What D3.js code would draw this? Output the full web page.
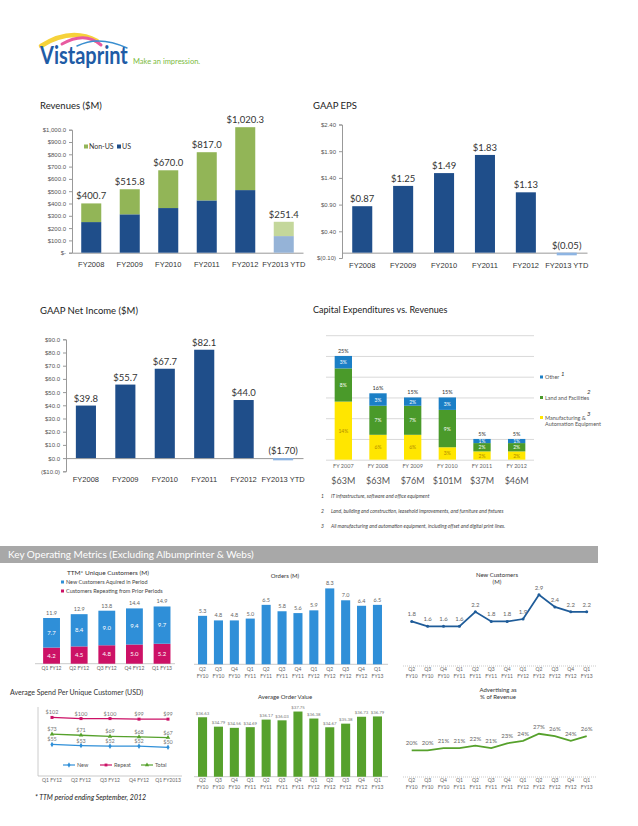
<!DOCTYPE html>
<html>
<head>
<meta charset="utf-8">
<script src="https://cdn.jsdelivr.net/npm/d3@7"></script>
<style>
body { margin: 0; background: #fff; }
svg { font-family: Lato, "Open Sans", sans-serif; }
</style>
</head>
<body>
<svg width="638" height="826"></svg>
<script>
// ---- data ----
var years = ['FY2008', 'FY2009', 'FY2010', 'FY2011', 'FY2012', 'FY2013 YTD'];
var revTotal = [400.7, 515.8, 670.0, 817.0, 1020.3, 251.4];
var revUS = [249, 312, 363, 425, 509, 135];
var revTicks = [0, 100, 200, 300, 400, 500, 600, 700, 800, 900, 1000];

var eps = [0.87, 1.25, 1.49, 1.83, 1.13, -0.05];
var epsTicks = [-0.10, 0.40, 0.90, 1.40, 1.90, 2.40];

var netIncome = [39.8, 55.7, 67.7, 82.1, 44.0, -1.70];
var niTicks = [-10, 0, 10, 20, 30, 40, 50, 60, 70, 80, 90];

var capexYears = ['FY 2007', 'FY 2008', 'FY 2009', 'FY 2010', 'FY 2011', 'FY 2012'];
var capexMfg = [14, 6, 6, 3, 2, 2];
var capexLand = [8, 7, 7, 9, 2, 2];
var capexOther = [3, 3, 2, 3, 1, 1];
var capexTotal = [25, 16, 15, 15, 5, 5];
var capexSpend = ['$63M', '$63M', '$76M', '$101M', '$37M', '$46M'];
var capexGrid = [0, 5, 10, 15, 20, 25, 30];

var ttmQuarters = ['Q1 FY12', 'Q2 FY12', 'Q3 FY12', 'Q4 FY12', 'Q1 FY13'];
var ttmRepeat = [4.2, 4.5, 4.8, 5.0, 5.2];
var ttmNew = [7.7, 8.4, 9.0, 9.4, 9.7];
var ttmTotal = [11.9, 12.9, 13.8, 14.4, 14.9];

var quarters = ['Q2 FY10', 'Q3 FY10', 'Q4 FY10', 'Q1 FY11', 'Q2 FY11', 'Q3 FY11',
                'Q4 FY11', 'Q1 FY12', 'Q2 FY12', 'Q3 FY12', 'Q4 FY12', 'Q1 FY13'];
var orders = [5.3, 4.8, 4.8, 5.0, 6.5, 5.8, 5.6, 5.9, 8.3, 7.0, 6.4, 6.5];
var newCustomers = [1.8, 1.6, 1.6, 1.6, 2.2, 1.8, 1.8, 1.9, 2.9, 2.4, 2.2, 2.2];
var aov = [36.63, 34.79, 34.56, 34.69, 36.17, 36.03, 37.75, 36.38, 34.67, 35.38, 36.73, 36.79];
var adPct = [20, 20, 21, 21, 22, 21, 23, 24, 27, 26, 24, 26];

var spendQuarters = ['Q1 FY12', 'Q2 FY12', 'Q3 FY12', 'Q4 FY12', 'Q1 FY2013'];
var spendNew = [55, 53, 52, 52, 50];
var spendRepeat = [102, 100, 100, 99, 99];
var spendTotal = [73, 71, 69, 68, 67];

// ---- colours ----
var navy = '#1f4e8a';
var olive = '#92b557';
var skyBlue = '#2f8fd8';
var magenta = '#cc1166';
var grass = '#56a12c';

var svg = d3.select('svg');

function txt(g, x, y, s, size, color, anchor) {
    return g.append('text')
        .attr('x', x).attr('y', y)
        .attr('font-size', size)
        .attr('fill', color || '#333')
        .attr('text-anchor', anchor || 'start')
        .text(s);
}

// ---- logo ----
var logo = svg.append('g');
function swoosh(a, c, b, color, w) {
    var p = d3.path();
    p.moveTo(a[0], a[1]);
    p.quadraticCurveTo(c[0], c[1], b[0], b[1]);
    logo.append('path').attr('d', p.toString())
        .attr('fill', 'none').attr('stroke', color)
        .attr('stroke-width', w).attr('stroke-linecap', 'round');
}
swoosh([41, 46], [71, 27], [97, 41], '#f6d23a', 4.5);
swoosh([62, 44], [85, 31], [101, 45], '#e85aa0', 3);
swoosh([77, 46], [99, 35], [127, 48], '#3a8fd0', 1.5);
// word mark: 20px bold, stretched a little in height
txt(logo, 0, 0, 'Vistaprint', 20, '#1f5ca6')
    .attr('font-weight', 'bold')
    .attr('transform', 'translate(40,64) scale(1,1.2)');
txt(logo, 133, 64, 'Make an impression.', 7.5, '#7dbb42');

// shared axis styling
function styleAxis(g) {
    g.selectAll('path, line').attr('stroke', '#999');
    g.selectAll('text').attr('fill', '#555').attr('font-size', 6);
}

// ---- Revenues ($M) ----
var gRev = svg.append('g');
txt(gRev, 40, 109, 'Revenues ($M)', 9.5, '#222');
var revX = d3.scaleBand().domain(years).range([72, 303]).paddingInner(0.48).paddingOuter(0.24);
var revY = d3.scaleLinear().domain([0, 1000]).range([252.7, 129.7]);

gRev.append('g').attr('transform', 'translate(72,0)')
    .call(d3.axisLeft(revY).tickValues(revTicks).tickSize(3).tickPadding(3)
        .tickFormat(function(d) { return d === 0 ? '$-' : '$' + d3.format(',.1f')(d); }))
    .call(styleAxis);
gRev.append('g').attr('transform', 'translate(0,252.7)')
    .call(d3.axisBottom(revX).tickSize(0).tickPadding(9))
    .call(styleAxis)
    .call(function(g) { g.selectAll('text').attr('font-size', 7.5).attr('fill', '#333'); });

years.forEach(function(y, i) {
    var last = i === years.length - 1;
    gRev.append('rect')
        .attr('x', revX(y)).attr('width', revX.bandwidth())
        .attr('y', revY(revUS[i])).attr('height', revY(0) - revY(revUS[i]))
        .attr('fill', last ? '#95b3d7' : navy);
    gRev.append('rect')
        .attr('x', revX(y)).attr('width', revX.bandwidth())
        .attr('y', revY(revTotal[i])).attr('height', revY(revUS[i]) - revY(revTotal[i]))
        .attr('fill', last ? '#c4d79b' : olive);
    txt(gRev, revX(y) + revX.bandwidth() / 2, revY(revTotal[i]) - 4,
        '$' + d3.format(',.1f')(revTotal[i]), 9.5, '#333', 'middle');
});
gRev.append('rect').attr('x', 84).attr('y', 144.5).attr('width', 4).attr('height', 4).attr('fill', olive);
txt(gRev, 89, 149, 'Non-US', 7, '#333');
gRev.append('rect').attr('x', 117).attr('y', 144.5).attr('width', 4).attr('height', 4).attr('fill', navy);
txt(gRev, 122, 149, 'US', 7, '#333');

// ---- GAAP EPS ----
var gEps = svg.append('g');
txt(gEps, 313, 109, 'GAAP EPS', 9.5, '#222');
var epsX = d3.scaleBand().domain(years).range([342, 587]).paddingInner(0.51).paddingOuter(0.25);
var epsY = d3.scaleLinear().domain([-0.10, 2.40]).range([258, 124.5]);
gEps.append('g').attr('transform', 'translate(342,0)')
    .call(d3.axisLeft(epsY).tickValues(epsTicks).tickSize(3).tickPadding(3)
        .tickFormat(function(d) { return d < 0 ? '$(' + Math.abs(d).toFixed(2) + ')' : '$' + d.toFixed(2); }))
    .call(styleAxis);
gEps.append('g').attr('transform', 'translate(0,' + epsY(0) + ')')
    .call(d3.axisBottom(epsX).tickSize(0).tickPadding(10))
    .call(styleAxis)
    .call(function(g) { g.selectAll('text').attr('font-size', 7.5).attr('fill', '#333'); });
years.forEach(function(y, i) {
    var v = eps[i];
    gEps.append('rect')
        .attr('x', epsX(y)).attr('width', epsX.bandwidth())
        .attr('y', epsY(Math.max(v, 0))).attr('height', Math.abs(epsY(v) - epsY(0)))
        .attr('fill', v < 0 ? '#8db4e2' : navy);
    txt(gEps, epsX(y) + epsX.bandwidth() / 2, epsY(Math.max(v, 0)) - 4,
        v < 0 ? '$(' + Math.abs(v).toFixed(2) + ')' : '$' + v.toFixed(2), 9.5, '#333', 'middle');
});

// ---- GAAP Net Income ($M) ----
var gNi = svg.append('g');
txt(gNi, 40, 314, 'GAAP Net Income ($M)', 9.5, '#222');
var niX = d3.scaleBand().domain(years).range([66, 303]).paddingInner(0.49).paddingOuter(0.25);
var niY = d3.scaleLinear().domain([-10, 90]).range([471.3, 339.3]);
gNi.append('g').attr('transform', 'translate(66,0)')
    .call(d3.axisLeft(niY).tickValues(niTicks).tickSize(3).tickPadding(3)
        .tickFormat(function(d) { return d < 0 ? '($' + Math.abs(d).toFixed(1) + ')' : '$' + d.toFixed(1); }))
    .call(styleAxis);
gNi.append('g').attr('transform', 'translate(0,' + niY(0) + ')')
    .call(d3.axisBottom(niX).tickSize(0).tickPadding(19))
    .call(styleAxis)
    .call(function(g) { g.selectAll('text').attr('font-size', 7.5).attr('fill', '#333'); });
years.forEach(function(y, i) {
    var v = netIncome[i];
    gNi.append('rect')
        .attr('x', niX(y)).attr('width', niX.bandwidth())
        .attr('y', niY(Math.max(v, 0))).attr('height', Math.abs(niY(v) - niY(0)))
        .attr('fill', v < 0 ? '#8db4e2' : navy);
    txt(gNi, niX(y) + niX.bandwidth() / 2, niY(Math.max(v, 0)) - 4,
        v < 0 ? '($' + Math.abs(v).toFixed(2) + ')' : '$' + v.toFixed(1), 9.5, '#333', 'middle');
});

// ---- Capital Expenditures vs. Revenues ----
var gCap = svg.append('g');
txt(gCap, 313, 313, 'Capital Expenditures vs. Revenues', 9, '#222');
var capX = d3.scaleBand().domain(capexYears).range([326, 534]).paddingInner(0.5).paddingOuter(0.25);
var capY = d3.scaleLinear().domain([0, 30]).range([459.7, 335.2]);
gCap.append('g').attr('transform', 'translate(326,0)')
    .call(d3.axisLeft(capY).tickValues(capexGrid).tickSize(-208).tickFormat(''))
    .call(function(g) {
        g.select('.domain').remove();
        g.selectAll('line').attr('stroke', '#d9d9d9');
    });
var capSeries = [
    { vals: capexMfg, color: '#ffe600', label: '#b08a00' },
    { vals: capexLand, color: '#4a9a2a', label: '#fff' },
    { vals: capexOther, color: '#1b7fc6', label: '#fff' }
];
capexYears.forEach(function(y, i) {
    var base = 0;
    capSeries.forEach(function(s) {
        var v = s.vals[i];
        gCap.append('rect')
            .attr('x', capX(y)).attr('width', capX.bandwidth())
            .attr('y', capY(base + v)).attr('height', capY(base) - capY(base + v))
            .attr('fill', s.color);
        txt(gCap, capX(y) + capX.bandwidth() / 2, (capY(base) + capY(base + v)) / 2 + 2,
            v + '%', 5, s.label, 'middle');
        base += v;
    });
    txt(gCap, capX(y) + capX.bandwidth() / 2, capY(capexTotal[i]) - 3, capexTotal[i] + '%', 5.5, '#333', 'middle');
    txt(gCap, capX(y) + capX.bandwidth() / 2, 467.5, y, 5.5, '#666', 'middle');
    txt(gCap, capX(y) + capX.bandwidth() / 2, 484, capexSpend[i], 9, '#555', 'middle');
});
var capLegend = [
    { y: 379, color: '#1b7fc6', lines: ['Other'], sup: '1', supX: 561, supY: 376 },
    { y: 399.5, color: '#4a9a2a', lines: ['Land and Facilities'], sup: '2', supX: 587, supY: 394 },
    { y: 419.5, color: '#ffe600', lines: ['Manufacturing &', 'Automation Equipment'], sup: '3', supX: 587, supY: 416 }
];
capLegend.forEach(function(l) {
    gCap.append('rect').attr('x', 540).attr('y', l.y - 3.5).attr('width', 3).attr('height', 3).attr('fill', l.color);
    l.lines.forEach(function(s, j) { txt(gCap, 545, l.y + j * 6.5, s, 5.5, '#555'); });
    txt(gCap, l.supX, l.supY, l.sup, 6, '#333').attr('font-style', 'italic');
});
var capNotes = ['IT infrastructure, software and office equipment',
    'Land, building and construction, leasehold improvements, and furniture and fixtures',
    'All manufacturing and automation equipment, including offset and digital print lines.'];
capNotes.forEach(function(s, i) {
    txt(gCap, 321, 498 + i * 15, String(i + 1), 5, '#444').attr('font-style', 'italic');
    txt(gCap, 331, 498 + i * 15, s, 5, '#444').attr('font-style', 'italic');
});

// ---- section band ----
svg.append('rect').attr('x', 0).attr('y', 546).attr('width', 598).attr('height', 17).attr('fill', '#a8a8a8');
txt(svg, 8, 558, 'Key Operating Metrics (Excluding Albumprinter & Webs)', 10, '#fff');

// small category axis for bottom charts
function baseLine(g, x0, x1, y, dotted) {
    g.append('line').attr('x1', x0).attr('x2', x1).attr('y1', y).attr('y2', y)
        .attr('stroke', '#bbb').attr('stroke-width', 0.8)
        .attr('stroke-dasharray', dotted ? '1,1' : null);
}
function quarterLabels(g, xs, y) {
    quarters.forEach(function(q, i) {
        var parts = q.split(' ');
        txt(g, xs(i), y, parts[0], 5, '#666', 'middle');
        txt(g, xs(i), y + 7, parts[1], 5, '#666', 'middle');
    });
}

// ---- TTM unique customers ----
var gTtm = svg.append('g');
txt(gTtm, 108, 575, 'TTM* Unique Customers (M)', 6.5, '#333', 'middle');
gTtm.append('rect').attr('x', 61).attr('y', 580.5).attr('width', 3).attr('height', 3).attr('fill', skyBlue);
txt(gTtm, 66, 583.5, 'New Customers Aquired in Period', 5.5, '#444');
gTtm.append('rect').attr('x', 61).attr('y', 589.5).attr('width', 3).attr('height', 3).attr('fill', magenta);
txt(gTtm, 66, 592.5, 'Customers Repeating from Prior Periods', 5.5, '#444');
var ttmX = d3.scaleBand().domain(ttmQuarters).range([37.6, 176]).paddingInner(0.39).paddingOuter(0.2);
var ttmY = d3.scaleLinear().domain([0, 15]).range([663.7, 606.1]);
baseLine(gTtm, 35, 175, 663.7);
ttmQuarters.forEach(function(q, i) {
    var cx = ttmX(q) + ttmX.bandwidth() / 2;
    gTtm.append('rect').attr('x', ttmX(q)).attr('width', ttmX.bandwidth())
        .attr('y', ttmY(ttmRepeat[i])).attr('height', ttmY(0) - ttmY(ttmRepeat[i])).attr('fill', magenta);
    gTtm.append('rect').attr('x', ttmX(q)).attr('width', ttmX.bandwidth())
        .attr('y', ttmY(ttmTotal[i])).attr('height', ttmY(ttmRepeat[i]) - ttmY(ttmTotal[i])).attr('fill', skyBlue);
    txt(gTtm, cx, (ttmY(0) + ttmY(ttmRepeat[i])) / 2 + 2, ttmRepeat[i].toFixed(1), 6, '#fff', 'middle');
    txt(gTtm, cx, (ttmY(ttmRepeat[i]) + ttmY(ttmTotal[i])) / 2 + 2, ttmNew[i].toFixed(1), 6, '#fff', 'middle');
    txt(gTtm, cx, ttmY(ttmTotal[i]) - 3, ttmTotal[i].toFixed(1), 5.5, '#666', 'middle');
    txt(gTtm, cx, 670, q, 5, '#666', 'middle');
});

// ---- Orders (M) ----
var gOrd = svg.append('g');
txt(gOrd, 285, 578, 'Orders (M)', 6, '#333', 'middle');
var qX = d3.scaleBand().domain(quarters).range([194.6, 385.4]).paddingInner(0.43).paddingOuter(0.215);
var ordY = d3.scaleLinear().domain([0, 9]).range([664.3, 582]);
baseLine(gOrd, 194, 388, 664.3);
quarters.forEach(function(q, i) {
    gOrd.append('rect').attr('x', qX(q)).attr('width', qX.bandwidth())
        .attr('y', ordY(orders[i])).attr('height', ordY(0) - ordY(orders[i])).attr('fill', skyBlue);
    txt(gOrd, qX(q) + qX.bandwidth() / 2, ordY(orders[i]) - 3, orders[i].toFixed(1), 5.5, '#666', 'middle');
});
quarterLabels(gOrd, function(i) { return qX(quarters[i]) + qX.bandwidth() / 2; }, 670.5);

// ---- New Customers (M) ----
var gNew = svg.append('g');
txt(gNew, 497, 577, 'New Customers', 6, '#333', 'middle');
txt(gNew, 497, 584, '(M)', 6, '#333', 'middle');
var ptX = d3.scalePoint().domain(quarters).range([411.7, 586.7]);
var newY = d3.scaleLinear().domain([0, 3.2]).range([665, 587.6]);
baseLine(gNew, 403, 597, 666, true);
gNew.append('path').datum(newCustomers)
    .attr('d', d3.line().x(function(d, i) { return ptX(quarters[i]); }).y(function(d) { return newY(d); }))
    .attr('fill', 'none').attr('stroke', '#1f5c99').attr('stroke-width', 1.8);
newCustomers.forEach(function(v, i) {
    gNew.append('circle').attr('cx', ptX(quarters[i])).attr('cy', newY(v)).attr('r', 1.5).attr('fill', '#1f5c99');
    txt(gNew, ptX(quarters[i]), newY(v) - 5, v.toFixed(1), 6, '#666', 'middle');
});
quarterLabels(gNew, function(i) { return ptX(quarters[i]); }, 670.5);

// ---- Average spend per unique customer ----
var gSp = svg.append('g');
txt(gSp, 10, 695, 'Average Spend Per Unique Customer (USD)', 7, '#333');
var spX = d3.scalePoint().domain(spendQuarters).range([52, 168]);
var spY = d3.scaleLinear().domain([0, 120]).range([776, 707.1]);
gSp.append('line').attr('x1', 38).attr('x2', 38).attr('y1', 707).attr('y2', 776).attr('stroke', '#ccc');
baseLine(gSp, 38, 182, 776);
var spSeries = [
    { name: 'New', vals: spendNew, color: skyBlue, sym: d3.symbolDiamond, lx: 63 },
    { name: 'Repeat', vals: spendRepeat, color: magenta, sym: d3.symbolSquare, lx: 100 },
    { name: 'Total', vals: spendTotal, color: grass, sym: d3.symbolTriangle, lx: 141 }
];
spSeries.forEach(function(s) {
    gSp.append('path').datum(s.vals)
        .attr('d', d3.line().x(function(d, i) { return spX(spendQuarters[i]); }).y(function(d) { return spY(d); }))
        .attr('fill', 'none').attr('stroke', s.color).attr('stroke-width', 1.3);
    s.vals.forEach(function(v, i) {
        gSp.append('path').attr('d', d3.symbol().type(s.sym).size(9))
            .attr('transform', 'translate(' + spX(spendQuarters[i]) + ',' + spY(v) + ')').attr('fill', s.color);
        txt(gSp, spX(spendQuarters[i]), spY(v) - 3, '$' + v, 5.5, '#777', 'middle');
    });
    gSp.append('line').attr('x1', s.lx).attr('x2', s.lx + 12).attr('y1', 765).attr('y2', 765)
        .attr('stroke', s.color).attr('stroke-width', 1.2);
    gSp.append('path').attr('d', d3.symbol().type(s.sym).size(8))
        .attr('transform', 'translate(' + (s.lx + 6) + ',765)').attr('fill', s.color);
    txt(gSp, s.lx + 14, 767, s.name, 5.5, '#555');
});
spendQuarters.forEach(function(q) { txt(gSp, spX(q), 782, q, 5, '#666', 'middle'); });
txt(svg, 35, 800, '* TTM period ending September, 2012', 7, '#222').attr('font-style', 'italic');

// ---- Average order value ----
var gAov = svg.append('g');
txt(gAov, 285, 699, 'Average Order Value', 6, '#333', 'middle');
var aovY = d3.scaleLinear().domain([25, 38.5]).range([776.7, 707.7]);
baseLine(gAov, 194, 388, 776.7);
quarters.forEach(function(q, i) {
    gAov.append('rect').attr('x', qX(q)).attr('width', qX.bandwidth())
        .attr('y', aovY(aov[i])).attr('height', aovY(25) - aovY(aov[i])).attr('fill', grass);
    txt(gAov, qX(q) + qX.bandwidth() / 2, aovY(aov[i]) - 2.5, '$' + aov[i].toFixed(2), 4.3, '#777', 'middle');
});
quarterLabels(gAov, function(i) { return qX(quarters[i]) + qX.bandwidth() / 2; }, 782);

// ---- Advertising as % of revenue ----
var gAd = svg.append('g');
txt(gAd, 498, 692, 'Advertising as', 6, '#333', 'middle');
txt(gAd, 498, 699, '% of Revenue', 6, '#333', 'middle');
var adY = d3.scaleLinear().domain([9, 30]).range([776.7, 726.6]);
baseLine(gAd, 403, 597, 777, true);
gAd.append('path').datum(adPct)
    .attr('d', d3.line().x(function(d, i) { return ptX(quarters[i]); }).y(function(d) { return adY(d); }))
    .attr('fill', 'none').attr('stroke', grass).attr('stroke-width', 1.8);
adPct.forEach(function(v, i) {
    txt(gAd, ptX(quarters[i]), adY(v) - 5, v + '%', 6, '#666', 'middle');
});
quarterLabels(gAd, function(i) { return ptX(quarters[i]); }, 782);
</script>
</body>
</html>
